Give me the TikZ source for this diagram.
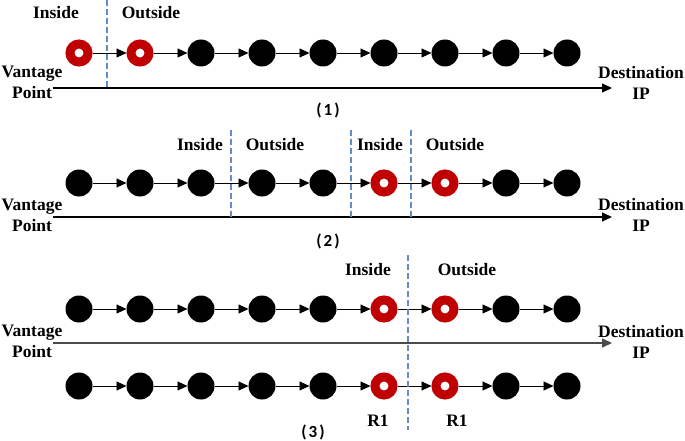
\documentclass[tikz,border=0pt]{standalone}
\usepackage{fontspec}
\setmainfont{Liberation Serif}
\setsansfont{Carlito}
\usetikzlibrary{arrows.meta}
\definecolor{ringred}{RGB}{192,0,0}
\definecolor{dashblue}{RGB}{100,140,200}
\begin{document}
\begin{tikzpicture}[x=1pt,y=-1pt,
 blacknode/.style={circle,fill=black,minimum size=27pt,inner sep=0pt,outer sep=0pt},
 rednode/.style={circle,draw=ringred,line width=9pt,fill=white,minimum size=18pt,inner sep=0pt},
 link/.style={line width=0.9pt,-{Triangle[length=10pt,width=9pt]}},
 axis/.style={line width=1.2pt,-{Triangle[length=10pt,width=9pt]}},
 axisgray/.style={axis,draw=black!70,line width=1.6pt},
 divider/.style={draw=dashblue,line width=1.2pt,dash pattern=on 6pt off 3pt},
 lab/.style={font=\bfseries\fontsize{17.5}{21}\selectfont,inner sep=0pt},
 endlab/.style={lab,align=center},
 numlab/.style={font=\sffamily\bfseries\fontsize{17}{20}\selectfont,inner sep=0pt,anchor=base}]
\useasboundingbox (0,0) rectangle (685,441);

% ---------- (1) ----------
\foreach \i/\s in {1/rednode,2/rednode,3/blacknode,4/blacknode,5/blacknode,6/blacknode,7/blacknode,8/blacknode,9/blacknode}
  \node[\s] (a\i) at ({18+61*\i},53) {};
\foreach \i in {1,...,8}{\pgfmathtruncatemacro\j{\i+1}\draw[link] (a\i) -- (a\j);}
\coordinate (as) at (53,88);
\coordinate (ae) at (612,88);
\draw[axis] (as) -- (ae);
\coordinate (d1t) at (107,0);
\coordinate (d1b) at (107,87);
\draw[divider] (d1t) -- (d1b);
\node[lab,anchor=base] (ain) at (56,19) {Inside};
\node[lab,anchor=base] (aout) at (151,19) {Outside};
\node[endlab] (avp) at (32,82.5) {Vantage\\Point};
\node[endlab] (adip) at (641,82.5) {Destination\\IP};
\node[numlab] (alab) at (328,115.7) {(\hspace{2pt}1\hspace{2pt})};

% ---------- (2) ----------
\foreach \i/\s in {1/blacknode,2/blacknode,3/blacknode,4/blacknode,5/blacknode,6/rednode,7/rednode,8/blacknode,9/blacknode}
  \node[\s] (b\i) at ({18+61*\i},183) {};
\foreach \i in {1,...,8}{\pgfmathtruncatemacro\j{\i+1}\draw[link] (b\i) -- (b\j);}
\coordinate (bs) at (53,217);
\coordinate (be) at (612,217);
\draw[axis] (bs) -- (be);
\foreach \k/\x in {1/231,2/351,3/411}{
  \coordinate (bd\k t) at (\x,130);
  \coordinate (bd\k b) at (\x,218);
  \draw[divider] (bd\k t) -- (bd\k b);
}
\node[lab,anchor=base] (bin1) at (200,150.5) {Inside};
\node[lab,anchor=base] (bout1) at (275,150.5) {Outside};
\node[lab,anchor=base] (bin2) at (380,150.5) {Inside};
\node[lab,anchor=base] (bout2) at (455,150.5) {Outside};
\node[endlab] (bvp) at (32,215) {Vantage\\Point};
\node[endlab] (bdip) at (641,215) {Destination\\IP};
\node[numlab] (blab) at (328,246) {(\hspace{2pt}2\hspace{2pt})};

% ---------- (3) ----------
\foreach \i/\s in {1/blacknode,2/blacknode,3/blacknode,4/blacknode,5/blacknode,6/rednode,7/rednode,8/blacknode,9/blacknode}{
  \node[\s] (c\i) at ({18+61*\i},309) {};
  \node[\s] (e\i) at ({18+61*\i},386) {};
}
\foreach \i in {1,...,8}{\pgfmathtruncatemacro\j{\i+1}\draw[link] (c\i) -- (c\j);\draw[link] (e\i) -- (e\j);}
\coordinate (cs) at (53,343);
\coordinate (ce) at (612,343);
\draw[axisgray] (cs) -- (ce);
\coordinate (cdt) at (408,255);
\coordinate (cdb) at (408,430);
\draw[divider] (cdt) -- (cdb);
\node[lab,anchor=base] (cin) at (368,275) {Inside};
\node[lab,anchor=base] (cout) at (467,275) {Outside};
\node[lab,anchor=base] (cr1a) at (378,426.6) {R1};
\node[lab,anchor=base] (cr1b) at (457,426.6) {R1};
\node[endlab] (cvp) at (32,341.7) {Vantage\\Point};
\node[endlab] (cdip) at (641,341.5) {Destination\\IP};
\node[numlab] (clab) at (313,437) {(\hspace{2pt}3\hspace{2pt})};
\end{tikzpicture}
\end{document}
